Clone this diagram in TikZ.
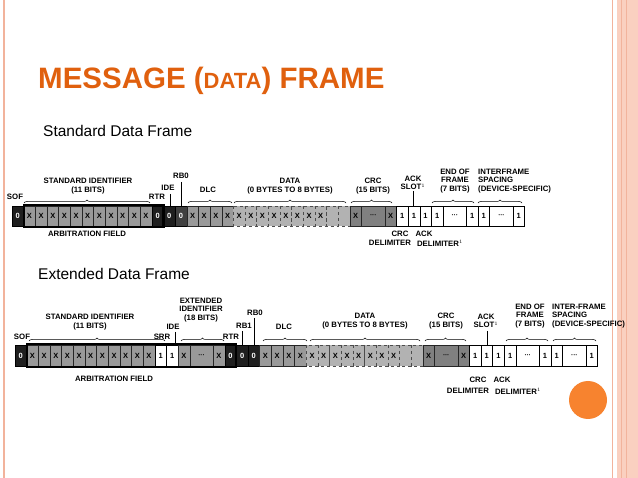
\documentclass[tikz,border=0pt]{standalone}
\usepackage{fontspec}
\setmainfont{Liberation Sans}
\usetikzlibrary{decorations.pathreplacing}
\definecolor{ttl}{HTML}{E0600E}
\definecolor{pinkband}{HTML}{FAD0C0}
\definecolor{pinkline}{HTML}{F2B39C}
\definecolor{orb}{HTML}{F7832F}
\newcommand\tdots{{\fontsize{4}{4}\selectfont\textbullet\,\textbullet\,\textbullet}}
\tikzset{
  kc/.style={fill=black!88,draw=black,text=white},
  rc/.style={fill=black!75,draw=black,text=white},
  gc/.style={fill=black!40,draw=black!85,text=black},
  dc/.style={fill=black!30,draw=black!70,dashed,text=black},
  cc/.style={fill=black!50,draw=black!85,text=black},
  wc/.style={fill=white,draw=black,text=black},
  lbl/.style={font=\fontsize{7.8}{8.6}\selectfont\bfseries,inner sep=0pt,align=center},
  bitlbl/.style={font=\fontsize{7.5}{8}\selectfont\bfseries,inner sep=0pt},
  brc/.style={decorate,decoration={brace,amplitude=3pt},line width=0.5pt},
  tick/.style={line width=0.6pt},
  arb/.style={line width=2.2pt,draw=black}
}
\begin{document}
\begin{tikzpicture}[x=1pt,y=-1pt]
\useasboundingbox (0,0) rectangle (638,478);
\fill[white] (0,0) rectangle (638,478);
% slide decoration
\draw[pinkline,line width=1.5pt] (4,0) -- (4,478);
\draw[pinkline,line width=1pt] (612,0) -- (612,478);
\fill[pinkband] (617,0) rectangle (638,478);
\draw[pinkline,line width=0.8pt] (621,0) -- (621,478);
\draw[pinkline,line width=0.8pt] (626,0) -- (626,478);
\fill[orb] (588,400) circle (19);
% title and headings
\node[anchor=base west,inner sep=0pt,text=ttl,font=\fontsize{29.5}{32}\selectfont\bfseries] (title) at (38,89) {MESSAGE ({\fontsize{22}{24}\selectfont DATA}) FRAME};
\node[anchor=base west,inner sep=0pt,font=\fontsize{15.5}{17}\selectfont] (std) at (43,137) {Standard Data Frame};
\node[anchor=base west,inner sep=0pt,font=\fontsize{15.5}{17}\selectfont] (ext) at (38,280) {Extended Data Frame};

\def\cw{11.65}
% ---------- standard frame ----------
\def\xo{12}\def\yt{206}\def\hh{20}
\foreach \i/\n/\s/\t in {0/1/kc/0,1/1/gc/X,2/1/gc/X,3/1/gc/X,4/1/gc/X,5/1/gc/X,6/1/gc/X,7/1/gc/X,8/1/gc/X,9/1/gc/X,10/1/gc/X,11/1/gc/X,12/1/kc/0,13/1/kc/0,14/1/rc/0,15/1/gc/X,16/1/gc/X,17/1/gc/X,18/1/gc/X,19/1/dc/X,20/1/dc/X,21/1/dc/X,22/1/dc/X,23/1/dc/X,24/1/dc/X,25/1/dc/X,26/1/dc/X,27/1/dc/{},28/1/dc/{},29/1/cc/X,30/2/cc/\tdots,32/1/cc/X,33/1/wc/1,34/1/wc/1,35/1/wc/1,36/1/wc/1,37/2/wc/\tdots,39/1/wc/1,40/1/wc/1,41/2/wc/\tdots,43/1/wc/1}{
  \path[\s] ({\xo+\i*\cw},\yt) rectangle ({\xo+(\i+\n)*\cw},\yt+\hh);
  \node[bitlbl,\s,fill=none,draw=none] at ({\xo+(\i+\n/2)*\cw},\yt+\hh/2) {\t};
}
\draw[arb] ({\xo+\cw},\yt-1) rectangle ({\xo+13*\cw},\yt+\hh+1);
\node[lbl] (s-sof) at (15,197) {SOF};
\node[lbl] (s-sid) at (88,186) {STANDARD IDENTIFIER\\(11 BITS)};
\draw[brc] (24,203) -- (150,203);
\node[lbl] (s-rtr) at (157,197) {RTR};
\node[lbl] (s-ide) at (168,188) {IDE};
\draw[tick] (170,194) -- (170,206);
\node[lbl] (s-rb0) at (181,176) {RB0};
\draw[tick] (181,182) -- (181,206);
\node[lbl] (s-dlc) at (208,190) {DLC};
\draw[brc] (188,203) -- (232,203);
\node[lbl] (s-data) at (290,186) {DATA\\(0 BYTES TO 8 BYTES)};
\draw[brc] (234,203) -- (346,203);
\node[lbl] (s-crc) at (373,186) {CRC\\(15 BITS)};
\draw[brc] (351,203) -- (392,203);
\node[lbl] (s-ack) at (413,183) {ACK\\SLOT$^{1}$};
\draw[tick] (413,191) -- (413,206);
\node[lbl] (s-eof) at (455,181) {END OF\\FRAME\\(7 BITS)};
\draw[brc] (432,203) -- (474,203);
\node[lbl,align=left,anchor=west] (s-ifs) at (478,181) {INTERFRAME\\SPACING\\(DEVICE-SPECIFIC)};
\draw[brc] (478,203) -- (522,203);
\node[lbl] (s-arb) at (87,234) {ARBITRATION FIELD};
\node[lbl] (s-crcd) at (400,234) {CRC};
\node[lbl] (s-ackd) at (424,234) {ACK};
\node[lbl] (s-del1) at (390,243) {DELIMITER};
\node[lbl] (s-del2) at (440,243) {DELIMITER$^{1}$};

% ---------- extended frame ----------
\def\xo{15}\def\yt{345}\def\hh{21}
\foreach \i/\n/\s/\t in {0/1/kc/0,1/1/gc/X,2/1/gc/X,3/1/gc/X,4/1/gc/X,5/1/gc/X,6/1/gc/X,7/1/gc/X,8/1/gc/X,9/1/gc/X,10/1/gc/X,11/1/gc/X,12/1/wc/1,13/1/wc/1,14/1/gc/X,15/2/gc/\tdots,17/1/gc/X,18/1/kc/0,19/1/kc/0,20/1/kc/0,21/1/gc/X,22/1/gc/X,23/1/gc/X,24/1/gc/X,25/1/dc/X,26/1/dc/X,27/1/dc/X,28/1/dc/X,29/1/dc/X,30/1/dc/X,31/1/dc/X,32/1/dc/X,33/1/dc/{},34/1/dc/{},35/1/cc/X,36/2/cc/\tdots,38/1/cc/X,39/1/wc/1,40/1/wc/1,41/1/wc/1,42/1/wc/1,43/2/wc/\tdots,45/1/wc/1,46/1/wc/1,47/2/wc/\tdots,49/1/wc/1}{
  \path[\s] ({\xo+\i*\cw},\yt) rectangle ({\xo+(\i+\n)*\cw},\yt+\hh);
  \node[bitlbl,\s,fill=none,draw=none] at ({\xo+(\i+\n/2)*\cw},\yt+\hh/2) {\t};
}
\draw[arb] ({\xo+\cw},\yt-1) rectangle ({\xo+19*\cw},\yt+\hh+1);
\node[lbl] (e-sof) at (22,337) {SOF};
\node[lbl] (e-sid) at (90,322) {STANDARD IDENTIFIER\\(11 BITS)};
\draw[brc] (29,341) -- (165,341);
\node[lbl] (e-eid) at (201,310) {EXTENDED\\IDENTIFIER\\(18 BITS)};
\draw[brc] (181,341) -- (224,341);
\node[lbl] (e-srr) at (162,337) {SRR};
\node[lbl] (e-ide) at (173,327) {IDE};
\draw[tick] (175,332) -- (175,345);
\node[lbl] (e-rtr) at (231,337) {RTR};
\node[lbl] (e-rb1) at (244,326) {RB1};
\draw[tick] (242,331) -- (242,345);
\node[lbl] (e-rb0) at (255,313) {RB0};
\draw[tick] (254,318) -- (254,345);
\node[lbl] (e-dlc) at (284,327) {DLC};
\draw[brc] (263,341) -- (307,341);
\node[lbl] (e-data) at (365,321) {DATA\\(0 BYTES TO 8 BYTES)};
\draw[brc] (310,341) -- (420,341);
\node[lbl] (e-crc) at (446,321) {CRC\\(15 BITS)};
\draw[brc] (425,341) -- (466,341);
\node[lbl] (e-ack) at (486,321) {ACK\\SLOT$^{1}$};
\draw[tick] (487,331) -- (487,345);
\node[lbl] (e-eof) at (530,316) {END OF\\FRAME\\(7 BITS)};
\draw[brc] (506,341) -- (548,341);
\node[lbl,align=left,anchor=west] (e-ifs) at (552,316) {INTER-FRAME\\SPACING\\(DEVICE-SPECIFIC)};
\draw[brc] (553,341) -- (596,341);
\node[lbl] (e-arb) at (114,379) {ARBITRATION FIELD};
\node[lbl] (e-crcd) at (478,380) {CRC};
\node[lbl] (e-ackd) at (502,380) {ACK};
\node[lbl] (e-del1) at (468,391) {DELIMITER};
\node[lbl] (e-del2) at (518,391) {DELIMITER$^{1}$};
\end{tikzpicture}
\end{document}
